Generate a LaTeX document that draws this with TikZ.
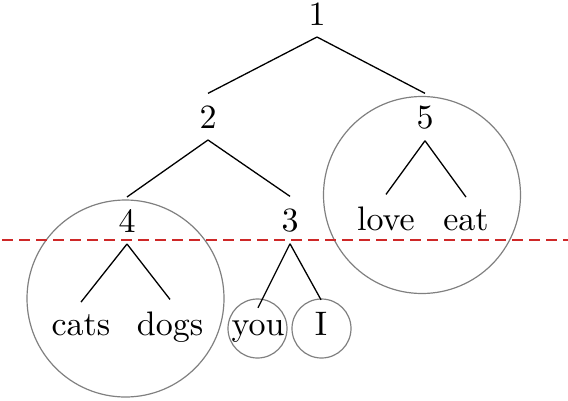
\documentclass[tikz,border=0pt]{standalone}
\usepackage{fontspec}
\newfontfamily\treefont{lmroman10-regular.otf}
\definecolor{cutred}{RGB}{206,40,40}
\definecolor{ringgray}{RGB}{128,128,128}
\begin{document}
\begin{tikzpicture}[x=1pt,y=-1pt,
  tn/.style={anchor=base, inner xsep=2pt, inner ysep=12pt, outer sep=0pt,
    font=\treefont\fontsize{34}{40}\selectfont},
  edge/.style={draw=black, line width=1.3pt},
  ring/.style={circle, draw=ringgray, line width=1.2pt, inner sep=0pt, outer sep=0pt},
  cut/.style={draw=cutred, line width=1.2pt, dash pattern=on 11pt off 6pt}]
\useasboundingbox (0,0) rectangle (568,400);
% rings
\node[ring, minimum size=197pt] (r5) at (422,195) {};
\node[ring, minimum size=197pt] (r4) at (125.5,298.5) {};
\node[ring, minimum size=59pt] (ryou) at (257.5,328.5) {};
\node[ring, minimum size=59pt] (rI) at (321.5,328.5) {};
% cut line
\coordinate (cl) at (2,240);
\coordinate (cr) at (568,240);
\draw[cut] (cl) -- (cr);
% tree nodes
\node[tn] (n1) at (317,25) {1};
\node[tn] (n2) at (208,128) {2};
\node[tn] (n5) at (425,128) {5};
\node[tn] (n4) at (127,232) {4};
\node[tn] (n3) at (290,231) {3};
\node[tn] (love) at (386,230) {love};
\node[tn] (eat) at (466,230) {eat};
\node[tn] (cats) at (81,335) {cats};
\node[tn] (dogs) at (170,335) {dogs};
\node[tn] (you) at (258,335) {you};
\node[tn] (I) at (321,335) {I};
% edges
\draw[edge] (n1.south) -- (n2.north);
\draw[edge] (n1.south) -- (n5.north);
\draw[edge] (n2.south) -- (n4.north);
\draw[edge] (n2.south) -- (n3.north);
\draw[edge] (n5.south) -- (love.north);
\draw[edge] (n5.south) -- (eat.north);
\draw[edge] (n4.south) -- (cats.north);
\draw[edge] (n4.south) -- (dogs.north);
\draw[edge] (n3.south) -- (you.north);
\draw[edge] (n3.south) -- (I.north);
\end{tikzpicture}
\end{document}
